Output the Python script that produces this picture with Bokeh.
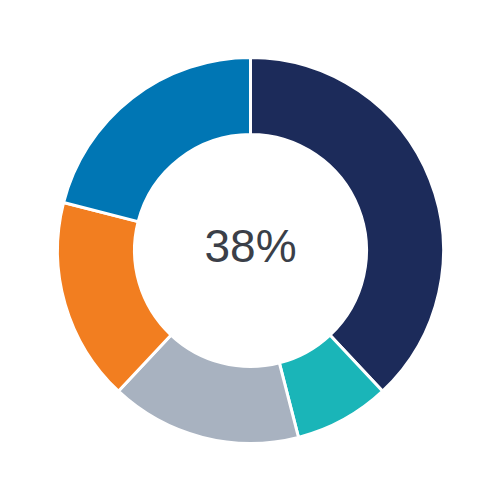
from bokeh.plotting import figure
from bokeh.models import ColumnDataSource
from bokeh.core.properties import value
from bokeh.embed import file_html
from bokeh.resources import INLINE
import numpy as np

# slice shares (%), clockwise from 12 o'clock
segments = ["A", "B", "C", "D", "E"]
shares = [38, 8, 16, 17, 21]
colors = ["#1c2b5a", "#1ab5b8", "#a8b2c0", "#f27e20", "#0076b4"]
center_label = "38%"

frac = np.array(shares, dtype=float) / sum(shares)
cum = np.concatenate([[0], np.cumsum(frac)])
start = np.pi / 2 - cum[:-1] * 2 * np.pi
end = np.pi / 2 - cum[1:] * 2 * np.pi

source = ColumnDataSource(dict(seg=segments, start=start, end=end, color=colors))

# ranges offset so the ring sits in the middle of the 500px window
p = figure(width=484, height=484, x_range=(-250, 234), y_range=(-234, 250),
           output_backend="svg", toolbar_location=None, min_border=0)
p.axis.visible = False
p.grid.visible = False
p.outline_line_color = None

p.annular_wedge(x=0, y=0, inner_radius=116, outer_radius=193,
                start_angle="start", end_angle="end", direction="clock",
                fill_color="color", line_color="white", line_width=3,
                source=source)

p.text(x=[0], y=[5], text=[center_label], text_align="center",
       text_baseline="middle", text_font=value("Liberation Sans"),
       text_font_size="46px", text_color="#3b3f48")

open("out.html", "w").write(file_html(p, INLINE))
